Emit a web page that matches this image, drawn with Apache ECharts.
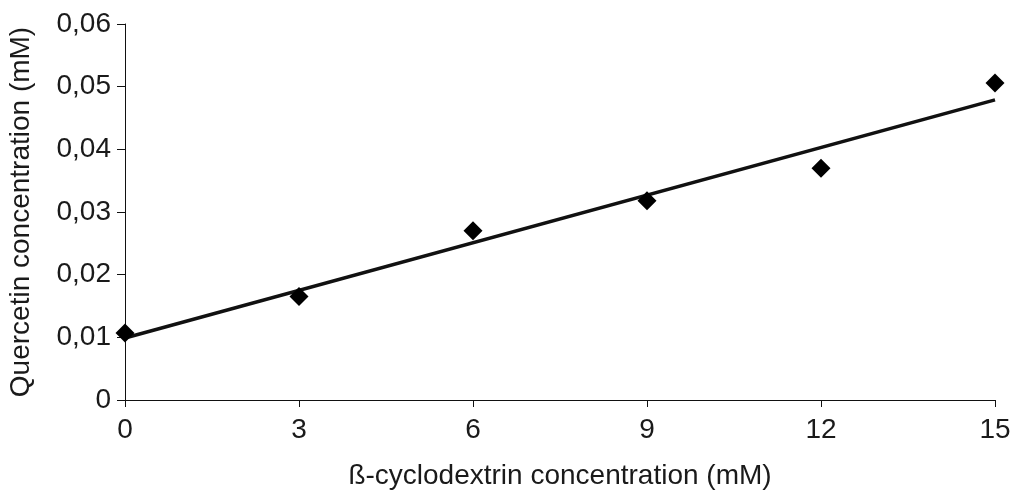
<!DOCTYPE html>
<html>
<head>
<meta charset="utf-8">
<script src="https://cdn.jsdelivr.net/npm/echarts@6/dist/echarts.min.js"></script>
<style>
  html, body { margin: 0; padding: 0; background: #fff; }
  #chart { width: 1018px; height: 499px; }
</style>
</head>
<body>
<div id="chart"></div>
<script>
// 测量数据
var cdConc = [0, 3, 6, 9, 12, 15]
var quercetin = [0.0107, 0.0165, 0.0270, 0.0318, 0.0370, 0.0506]
// 趋势线两端
var trendX = [0, 15]
var trendY = [0.0099, 0.0479]

var myChart = echarts.init(document.getElementById('chart'))
var font = 'Liberation Sans, Arial, sans-serif'
var option = {
  animation: false,
  grid: {
    left: 125,
    right: 23,
    top: 24,
    bottom: 99,
    outerBoundsMode: 'none'
  },
  xAxis: {
    type: 'value',
    min: 0,
    max: 15,
    interval: 3,
    name: 'ß-cyclodextrin concentration (mM)',
    nameLocation: 'middle',
    nameGap: 62,
    nameTextStyle: { color: '#1a1a1a', fontSize: 28, fontFamily: font },
    axisLine: { lineStyle: { color: '#111', width: 1 } },
    axisTick: { show: true, length: 7, lineStyle: { color: '#111' } },
    axisLabel: { color: '#1a1a1a', fontSize: 28, fontFamily: font, margin: 16 },
    splitLine: { show: false }
  },
  yAxis: {
    type: 'value',
    min: 0,
    max: 0.06,
    interval: 0.01,
    name: 'Quercetin concentration (mM)',
    nameLocation: 'middle',
    nameGap: 90,
    nameTextStyle: { color: '#1a1a1a', fontSize: 28, fontFamily: font },
    axisLine: { show: true, lineStyle: { color: '#111', width: 1 } },
    axisTick: { show: true, length: 8, lineStyle: { color: '#111' } },
    axisLabel: {
      color: '#1a1a1a',
      fontSize: 28,
      fontFamily: font,
      margin: 14,
      formatter: function (v) {
        return v === 0 ? '0' : v.toFixed(2).replace('.', ',')
      }
    },
    splitLine: { show: false }
  },
  series: [
    {
      name: 'trend',
      type: 'line',
      data: trendX.map(function (x, i) { return [x, trendY[i]] }),
      showSymbol: false,
      lineStyle: { color: '#111', width: 3.5 },
      z: 2
    },
    {
      name: 'data',
      type: 'scatter',
      data: cdConc.map(function (x, i) { return [x, quercetin[i]] }),
      symbol: 'diamond',
      symbolSize: [19, 19],
      itemStyle: { color: '#000', opacity: 1 },
      z: 3
    }
  ]
}
myChart.setOption(option)
window.addEventListener('resize', function () {
  myChart.resize()
})
</script>
</body>
</html>
